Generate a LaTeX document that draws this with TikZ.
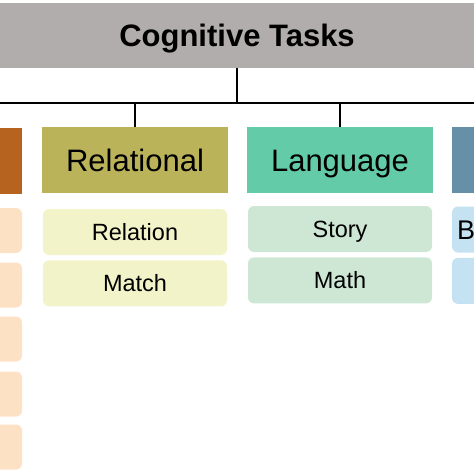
\documentclass[tikz,border=0pt]{standalone}
\usepackage{fontspec}
\setmainfont{Liberation Sans}
\usetikzlibrary{positioning}
\definecolor{topgray}{HTML}{B0ADAC}
\definecolor{hdorange}{HTML}{B5631E}
\definecolor{hdolive}{HTML}{BAB35A}
\definecolor{hdteal}{HTML}{63CBA8}
\definecolor{hdblue}{HTML}{6690A8}
\definecolor{tkorange}{HTML}{FDE1C4}
\definecolor{tkolive}{HTML}{F2F3C8}
\definecolor{tkteal}{HTML}{CDE7D4}
\definecolor{tkblue}{HTML}{C4E2F2}
\tikzset{
	head/.style = {minimum width = 186pt, minimum height = 66pt, inner sep = 0pt, text height = 22pt, text depth = 0pt, font = \fontsize{31}{31}\selectfont},
	task/.style = {rounded corners = 6pt, minimum width = 184pt, minimum height = 46pt, inner sep = 0pt, text height = 16.8pt, text depth = 0pt, font = \fontsize{23.5}{23.5}\selectfont},
	bus/.style = {line width = 1.6pt}
}
\begin{document}
\begin{tikzpicture} [x = 1pt, y = -1pt]
	\useasboundingbox (0,0) rectangle (474,474);
	\clip (0,0) rectangle (474,474);
	% root
	\node [fill = topgray, minimum width = 480pt, minimum height = 65pt, inner sep = 0pt, text height = 22pt, text depth = 0pt, font = \fontsize{31}{31}\selectfont\bfseries] (root) at (237,35.5) {Cognitive Tasks};
	% headers
	\node [head, fill = hdorange] (orange) at (-71,161) {};
	\node [head, fill = hdolive] (relational) at (135,160) {Relational};
	\node [head, fill = hdteal] (language) at (340,160) {Language};
	\node [head, fill = hdblue] (blue) at (545,160) {};
	% tree lines
	\coordinate (busleft) at (-10,103);
	\coordinate (busright) at (484,103);
	\coordinate (busmid) at (root.south |- busleft);
	\draw [bus] (root.south) -- (busmid);
	\draw [bus] (busleft) -- (busright);
	\draw [bus] (relational.north |- busleft) -- (relational.north);
	\draw [bus] (language.north |- busleft) -- (language.north);
	% relational tasks
	\node [task, fill = tkolive] (relation) at (135,232) {Relation};
	\node [task, fill = tkolive, below = 5pt of relation] (match) {Match};
	% language tasks
	\node [task, fill = tkteal] (story) at (340,229) {Story};
	\node [task, fill = tkteal, below = 5pt of story] (math) {Math};
	% blue tasks
	\node [task, fill = tkblue] (blueA) at (544,229.5) {};
	\node [task, fill = tkblue, below = 5pt of blueA] (blueB) {};
	\node [anchor = west, inner sep = 0pt, text height = 19pt, text depth = 0pt, font = \fontsize{27}{27}\selectfont] at ([xshift = 5pt]blueA.west) {B};
	% orange tasks
	\foreach \y [count = \i] in {230.5,285,339,394,447} {
		\node [task, fill = tkorange, minimum height = 45pt] (orange\i) at (-70,\y) {};
	}
\end{tikzpicture}
\end{document}
